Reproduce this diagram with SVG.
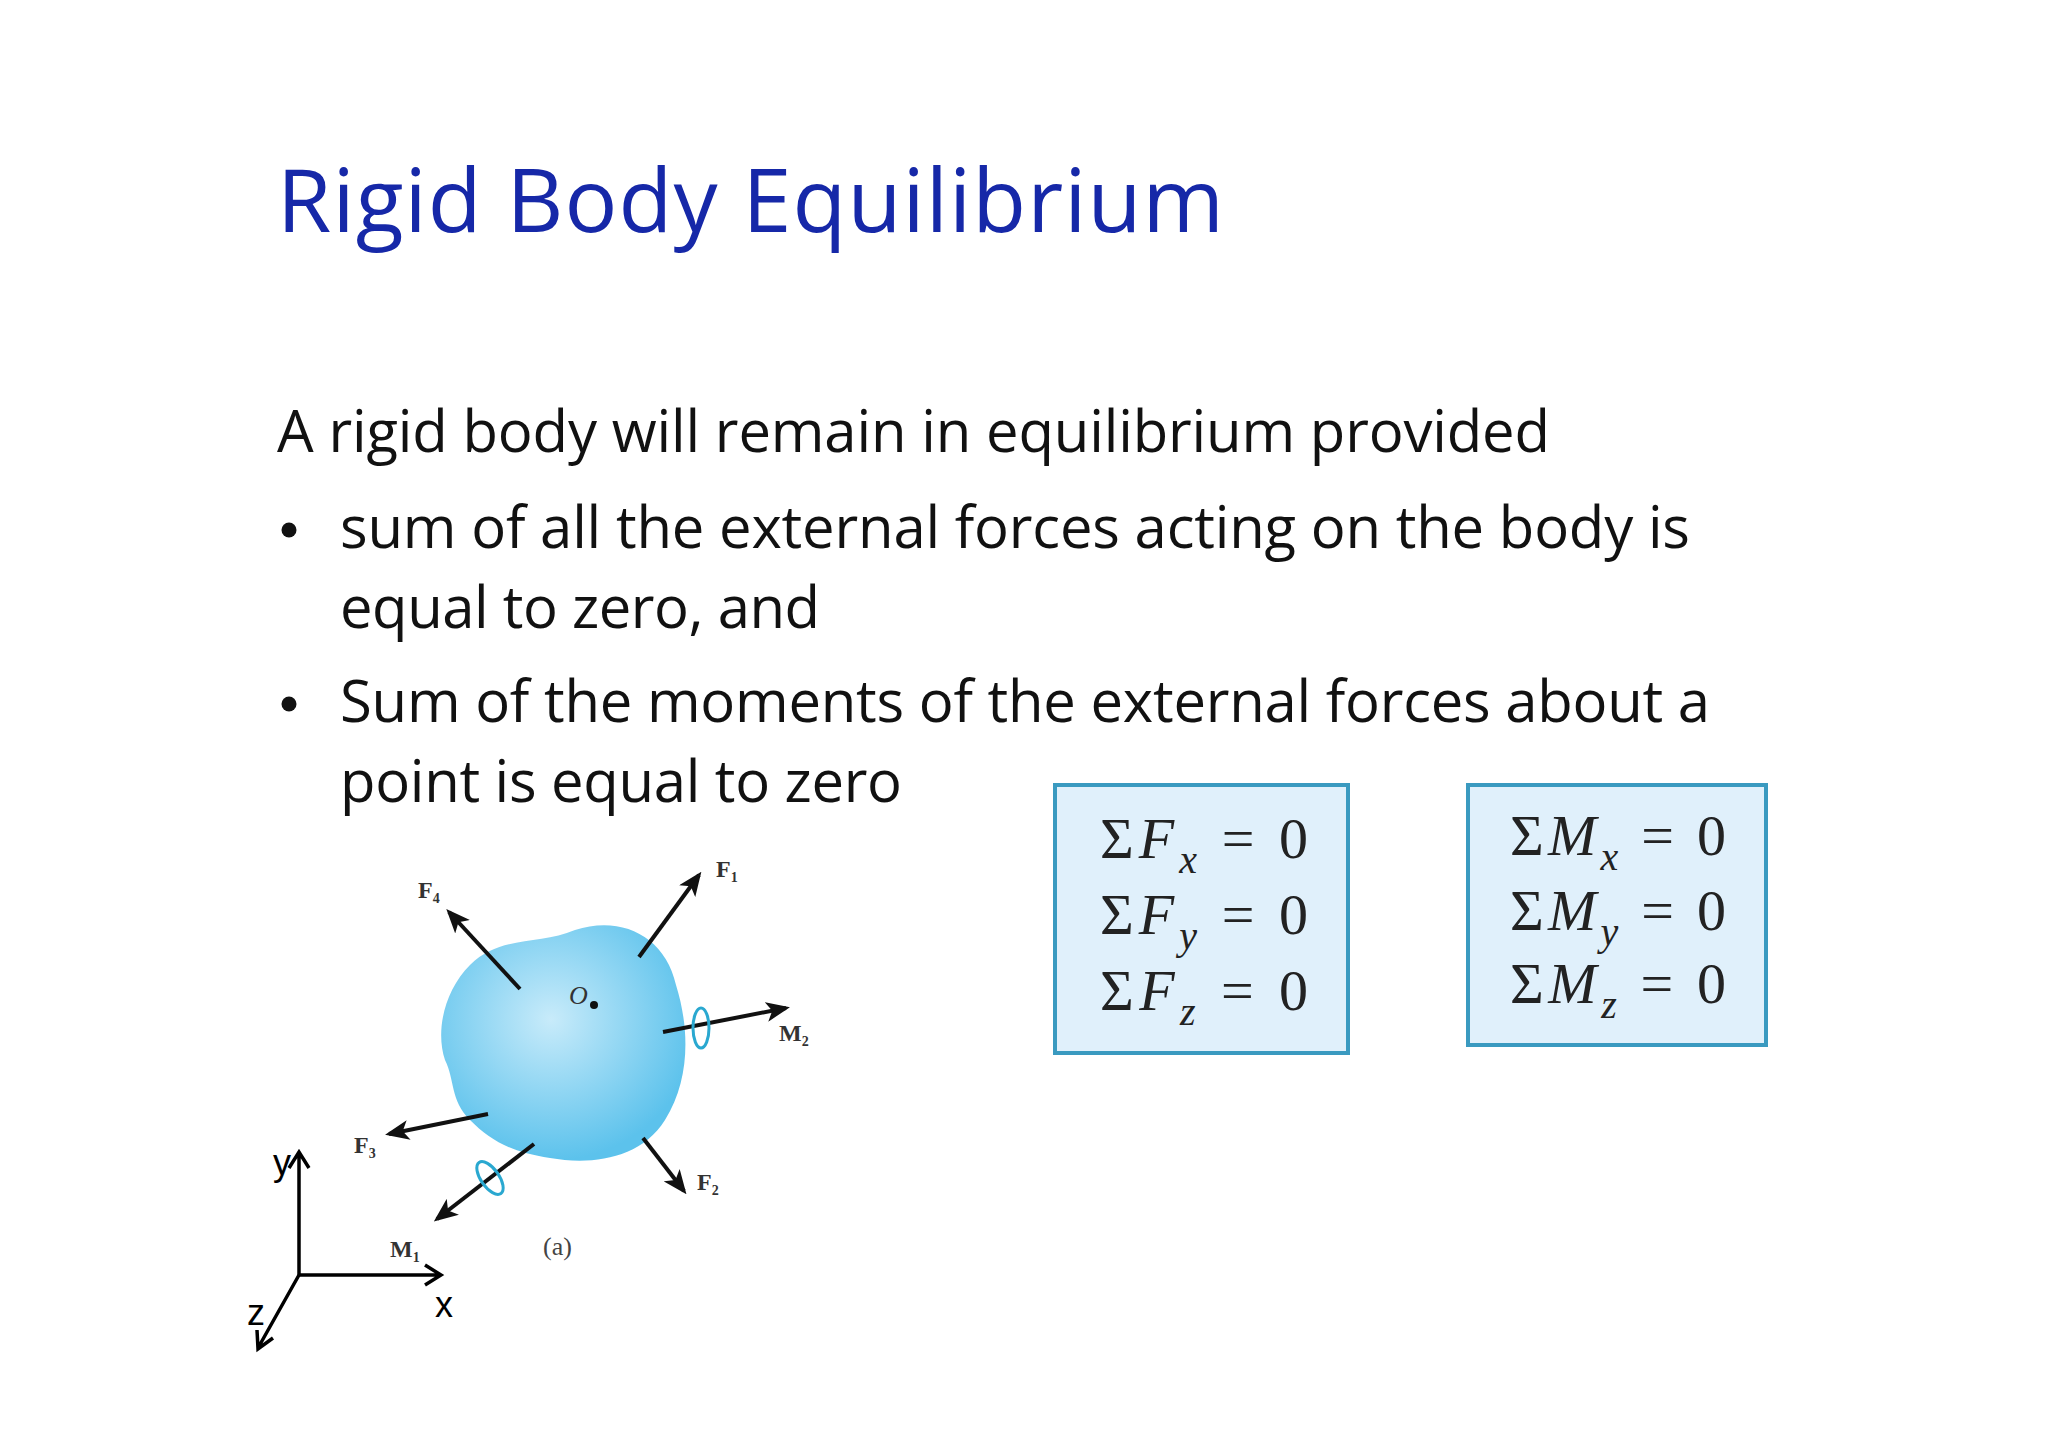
<svg xmlns="http://www.w3.org/2000/svg" width="2048" height="1448" viewBox="0 0 2048 1448">
<style>
.t{font-family:"Open Sans","Liberation Sans",sans-serif;fill:#111}
.eq{font-family:"Liberation Serif",serif;font-size:58px;fill:#222}
.eq tspan.i{font-style:italic}
.lb{font-family:"Liberation Serif",serif;font-weight:bold;font-size:24px;fill:#333}
.ar{stroke:#111;stroke-width:4;fill:none;marker-end:url(#ah)}
.ax{stroke:#000;stroke-width:3.5;fill:none}
.box{fill:#e0f0fb;stroke:#3a9ac0;stroke-width:4}
</style>
<defs>
<marker id="ah" markerWidth="6" markerHeight="5" refX="5" refY="2.5" orient="auto"><path d="M0,0 L6,2.5 L0,5 L1.5,2.5z" fill="#111"/></marker>
<radialGradient id="bg" cx="0.45" cy="0.4" r="0.6"><stop offset="0" stop-color="#c8ebfa"/><stop offset="1" stop-color="#5cc2ec"/></radialGradient>
</defs>
<rect width="2048" height="1448" fill="#fff"/>
<text x="277" y="232" font-family="Open Sans,Liberation Sans,sans-serif" font-size="88" fill="#1628a8" textLength="947">Rigid Body Equilibrium</text>
<text class="t" x="277" y="452" font-size="58" textLength="1273">A rigid body will remain in equilibrium provided</text>
<circle cx="289" cy="530" r="7.5" fill="#111"/>
<text class="t" x="340" y="548" font-size="58" textLength="1350">sum of all the external forces acting on the body is</text>
<text class="t" x="340" y="628" font-size="58" textLength="480">equal to zero, and</text>
<circle cx="289" cy="704" r="7.5" fill="#111"/>
<text class="t" x="340" y="722" font-size="58" textLength="1370">Sum of the moments of the external forces about a</text>
<text class="t" x="340" y="802" font-size="58" textLength="562">point is equal to zero</text>
<g id="eqF"><rect class="box" x="1055" y="785" width="293" height="268"/>
<text class="eq" x="1100" y="858" textLength="208">Σ<tspan class="i">F</tspan><tspan class="i" dy="15" font-size="40">x</tspan><tspan dy="-15">  =  0</tspan></text>
<text class="eq" x="1100" y="934" textLength="208">Σ<tspan class="i">F</tspan><tspan class="i" dy="15" font-size="40">y</tspan><tspan dy="-15">  =  0</tspan></text>
<text class="eq" x="1100" y="1010" textLength="208">Σ<tspan class="i">F</tspan><tspan class="i" dy="15" font-size="40">z</tspan><tspan dy="-15">  =  0</tspan></text></g>
<g id="eqM"><rect class="box" x="1468" y="785" width="298" height="260"/>
<text class="eq" x="1510" y="855" textLength="216">Σ<tspan class="i">M</tspan><tspan class="i" dy="15" font-size="40">x</tspan><tspan dy="-15">  =  0</tspan></text>
<text class="eq" x="1510" y="930" textLength="216">Σ<tspan class="i">M</tspan><tspan class="i" dy="15" font-size="40">y</tspan><tspan dy="-15">  =  0</tspan></text>
<text class="eq" x="1510" y="1003" textLength="216">Σ<tspan class="i">M</tspan><tspan class="i" dy="15" font-size="40">z</tspan><tspan dy="-15">  =  0</tspan></text></g>
<g id="body">
<path d="M470,965 C500,935 540,945 575,930 C620,915 665,935 676,985 C690,1030 690,1080 665,1120 C640,1160 590,1165 550,1158 C510,1152 490,1140 470,1120 C450,1100 455,1080 445,1060 C435,1030 445,990 470,965Z" fill="url(#bg)"/>
<text x="569" y="1004" font-family="Liberation Serif,serif" font-style="italic" font-size="26" fill="#333">O</text>
<circle cx="594" cy="1005" r="4" fill="#111"/>
</g>
<g id="connectors">
<line class="ar" x1="520" y1="989" x2="449" y2="912"/>
<line class="ar" x1="639" y1="957" x2="699" y2="875"/>
<line class="ar" x1="663" y1="1032" x2="786" y2="1008"/>
<line class="ar" x1="488" y1="1114" x2="389" y2="1134"/>
<line class="ar" x1="534" y1="1144" x2="437" y2="1219"/>
<line class="ar" x1="643" y1="1138" x2="684" y2="1191"/>
<ellipse cx="701" cy="1028" rx="8" ry="20" fill="none" stroke="#2aa8d0" stroke-width="3"/>
<ellipse cx="490" cy="1178" rx="9" ry="19" transform="rotate(-35 490 1178)" fill="none" stroke="#2aa8d0" stroke-width="3"/>
</g>
<g id="labels">
<text class="lb" x="418" y="898">F<tspan font-size="14" dy="5">4</tspan></text>
<text class="lb" x="716" y="877">F<tspan font-size="14" dy="5">1</tspan></text>
<text class="lb" x="779" y="1041">M<tspan font-size="14" dy="5">2</tspan></text>
<text class="lb" x="354" y="1153">F<tspan font-size="14" dy="5">3</tspan></text>
<text class="lb" x="697" y="1190">F<tspan font-size="14" dy="5">2</tspan></text>
<text class="lb" x="390" y="1257">M<tspan font-size="14" dy="5">1</tspan></text>
<text x="543" y="1255" font-family="Liberation Serif,serif" font-size="26" fill="#444">(a)</text>
</g>
<g id="axes">
<path class="ax" d="M299,1275 V1153 M289,1168 L299,1152 L309,1168"/>
<path class="ax" d="M299,1275 H440 M425,1265 L441,1275 L425,1285"/>
<path class="ax" d="M299,1275 L258,1348 M257,1330 L258,1349 L273,1338"/>
<text x="273" y="1175" font-family="Liberation Sans,sans-serif" font-size="36">y</text>
<text x="435" y="1317" font-family="Liberation Sans,sans-serif" font-size="36">x</text>
<text x="247" y="1325" font-family="Liberation Sans,sans-serif" font-size="36">z</text>
</g>
</svg>
